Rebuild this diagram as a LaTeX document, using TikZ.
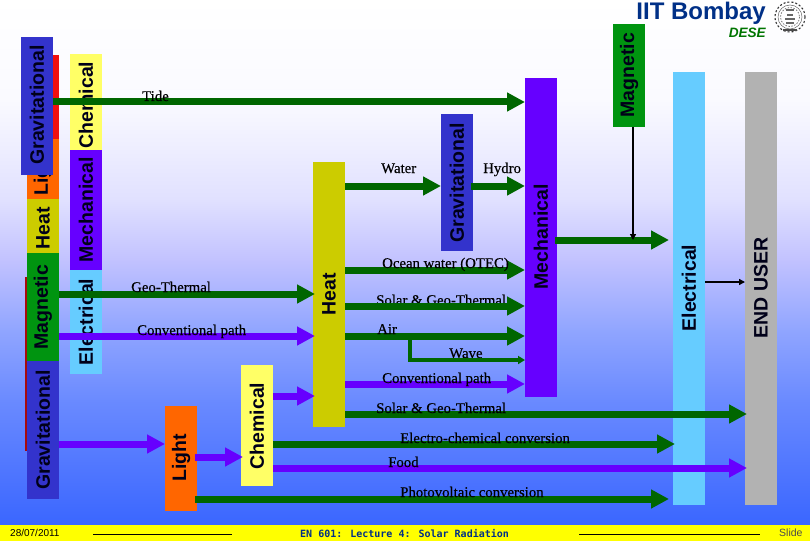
\documentclass[tikz,border=0pt]{standalone}
\usepackage{fontspec}
\setmainfont[FakeBold=0.35]{Liberation Serif}
\setsansfont{Liberation Sans}
\newfontfamily\monof{DejaVu Sans Mono}
\usetikzlibrary{arrows.meta,calc}
\definecolor{cGrav}{HTML}{3333CC}
\definecolor{cMag}{HTML}{009410}
\definecolor{cHeat}{HTML}{CCCC00}
\definecolor{cLight}{HTML}{FF6600}
\definecolor{cRed}{HTML}{F01010}
\definecolor{cMech}{HTML}{6600FF}
\definecolor{cElec}{HTML}{66CCFF}
\definecolor{cChem}{HTML}{FFFF66}
\definecolor{cUser}{HTML}{B2B2B2}
\definecolor{cGreen}{HTML}{006600}
\definecolor{cNavy}{HTML}{003087}
\definecolor{cFoot}{HTML}{FFFF00}
\tikzset{
  blockbox/.style={draw=none,inner sep=0pt,outer sep=0pt},
  blocktext/.style={font=\sffamily\bfseries\fontsize{19.5}{20}\selectfont,rotate=90,inner sep=0pt,text=black!90!blue},
  flowtext/.style={font=\fontsize{14.8}{16}\selectfont,anchor=base west,inner sep=0pt,text=black},
  greenflow/.style={draw=cGreen,line width=7pt,-{Triangle[length=18pt,width=18pt]}},
  purpleflow/.style={draw=cMech,line width=7pt,-{Triangle[length=18pt,width=18pt]}},
  blackflow/.style={draw=black,line width=1.3pt,-{Triangle[length=6pt,width=6pt]}},
}
% name, x0, y0, x1, y1, colour
\newcommand{\blk}[6]{\node[blockbox,fill=#6,minimum width=#4pt-#2pt,minimum height=#5pt-#3pt] (#1) at ({(#2+#4)/2},{(#3+#5)/2}) {};}
% name, x of baseline side centre, y centre, text
\newcommand{\btxt}[4]{\node[blocktext] (#1) at (#2,#3) {#4};}
\begin{document}
\begin{tikzpicture}[x=1pt,y=-1pt]
\useasboundingbox (0,0) rectangle (810,540);
% background
\fill[top color=white,bottom color=white!98!blue] (0,-1) rectangle (810,101);
\fill[top color=white!98!blue,bottom color=blue!12!white] (0,100) rectangle (810,201);
\fill[top color=blue!12!white,bottom color=blue!24!white] (0,200) rectangle (810,261);
\fill[top color=blue!24!white,bottom color={rgb,255:red,144;green,165;blue,255}] (0,260) rectangle (810,331);
\fill[top color={rgb,255:red,144;green,165;blue,255},bottom color={rgb,255:red,106;green,138;blue,255}] (0,330) rectangle (810,401);
\fill[top color={rgb,255:red,106;green,138;blue,255},bottom color={rgb,255:red,58;green,102;blue,255}] (0,400) rectangle (810,526);
\fill[cFoot] (0,525) rectangle (810,541);
% far-left stack
\fill[cRed!70!black] (25,277) rectangle (28,451);
\blk{redb}{27}{55}{59}{139}{cRed}
\blk{lightA}{27}{139}{59}{199}{cLight}
\blk{heatA}{27}{199}{59}{253}{cHeat}
\blk{magA}{27}{253}{59}{361}{cMag}
\blk{gravA}{27}{361}{59}{499}{cGrav}
\btxt{tLightA}{43}{172}{Light}
\btxt{tHeatA}{43}{228}{Heat}
\btxt{tMagA}{43}{307}{Magnetic}
\btxt{tGravA}{43}{430}{Gravitational}
\blk{gravB}{21}{37}{53}{175}{cGrav}
\btxt{tGravB}{37}{105}{Gravitational}
% second stack
\blk{chemB}{70}{54}{102}{150}{cChem}
\blk{mechB}{70}{150}{102}{270}{cMech}
\blk{elecB}{70}{270}{102}{374}{cElec}
\btxt{tChemB}{86}{105}{Chemical}
\btxt{tMechB}{86}{210}{Mechanical}
\btxt{tElecB}{86}{322}{Electrical}
% other blocks
\blk{light}{165}{406}{197}{511}{cLight}
\blk{chem}{241}{365}{273}{486}{cChem}
\blk{heat}{313}{162}{345}{427}{cHeat}
\blk{grav}{441}{114}{473}{251}{cGrav}
\blk{mech}{525}{78}{557}{397}{cMech}
\blk{mag}{613}{24}{645}{127}{cMag}
\blk{elec}{673}{72}{705}{505}{cElec}
\blk{user}{745}{72}{777}{505}{cUser}
\btxt{tLight}{181}{458}{Light}
\btxt{tChem}{257}{426}{Chemical}
\btxt{tHeat}{329}{294}{Heat}
\btxt{tGrav}{457}{183}{Gravitational}
\btxt{tMech}{541}{237}{Mechanical}
\btxt{tMag}{629}{75}{Magnetic}
\btxt{tElec}{689}{288}{Electrical}
\btxt{tUser}{761}{288}{END USER}
% labels under arrows
\node[flowtext] (lSolarA) at (376,305) {Solar \& Geo-Thermal};
\node[flowtext] (lWave) at (449,358) {Wave};
% arrows
\coordinate (tideS) at (gravB.east |- 0,102);
\draw[greenflow] (tideS) -- (mech.west |- tideS);
\coordinate (geoS) at (magA.east |- 0,294);
\draw[greenflow] (geoS) -- ([xshift=2pt]heat.west |- geoS);
\coordinate (convS) at (magA.east |- 0,336);
\draw[purpleflow] (convS) -- ([xshift=2pt]heat.west |- convS);
\coordinate (glS) at (gravA.east |- 0,444);
\draw[purpleflow] (glS) -- (light.west |- glS);
\coordinate (lcS) at ([xshift=-2pt]light.east |- 0,457);
\draw[purpleflow] (lcS) -- ([xshift=2pt]chem.west |- lcS);
\coordinate (chS) at (chem.east |- 0,396);
\draw[purpleflow] (chS) -- ([xshift=2pt]heat.west |- chS);
\coordinate (ecS) at (chem.east |- 0,444);
\draw[greenflow] (ecS) -- ([xshift=2pt]elec.west |- ecS);
\coordinate (foS) at (chem.east |- 0,468);
\draw[purpleflow] (foS) -- ([xshift=2pt]user.west |- foS);
\coordinate (pvS) at ([xshift=-2pt]light.east |- 0,499);
\draw[greenflow] (pvS) -- ([xshift=-4pt]elec.west |- pvS);
\coordinate (wS) at (heat.east |- 0,186);
\draw[greenflow] (wS) -- (grav.west |- wS);
\coordinate (hyS) at ([xshift=-2pt]grav.east |- 0,186);
\draw[greenflow] (hyS) -- (mech.west |- hyS);
\coordinate (ocS) at (heat.east |- 0,270);
\draw[greenflow] (ocS) -- (mech.west |- ocS);
\coordinate (soS) at (heat.east |- 0,306);
\draw[greenflow] (soS) -- (mech.west |- soS);
\coordinate (aiS) at (heat.east |- 0,336);
\draw[greenflow] (aiS) -- (mech.west |- aiS);
\coordinate (waS) at (410,336);
\coordinate (waE) at (mech.west |- 0,360);
\draw[cGreen,line width=3.5pt,-{Triangle[length=7pt,width=8pt]}] (waS) |- (waE);
\coordinate (cpS) at (heat.east |- 0,384);
\draw[purpleflow] (cpS) -- (mech.west |- cpS);
\coordinate (sgS) at (heat.east |- 0,414);
\draw[greenflow] (sgS) -- ([xshift=2pt]user.west |- sgS);
\coordinate (meS) at ([xshift=-2pt]mech.east |- 0,240);
\draw[greenflow] (meS) -- ([xshift=-4pt]elec.west |- meS);
\coordinate (maS) at ([xshift=4pt]mag.south);
\coordinate (maE) at (maS |- 0,240);
\draw[blackflow] (maS) -- (maE);
\coordinate (euS) at (elec.east |- 0,282);
\draw[blackflow] (euS) -- (user.west |- euS);
% labels over arrows
\node[flowtext] (lTide) at (142,101) {Tide};
\node[flowtext] (lWater) at (381,173) {Water};
\node[flowtext] (lHydro) at (483,173) {Hydro};
\node[flowtext] (lOcean) at (382,268) {Ocean water (OTEC)};
\node[flowtext] (lGeo) at (131,292) {Geo-Thermal};
\node[flowtext] (lConvA) at (137,335) {Conventional path};
\node[flowtext] (lAir) at (377,334) {Air};
\node[flowtext] (lConvB) at (382,383) {Conventional path};
\node[flowtext] (lSolarB) at (376,413) {Solar \& Geo-Thermal};
\node[flowtext] (lElectro) at (400,443) {Electro-chemical conversion};
\node[flowtext] (lFood) at (388,467) {Food};
\node[flowtext] (lPhoto) at (400,497) {Photovoltaic conversion};
% header
\node[anchor=base east,inner sep=0pt,text=cNavy,font=\sffamily\bfseries\fontsize{24}{24}\selectfont] (hTitle) at (766,20) {IIT Bombay};
\node[anchor=base east,inner sep=0pt,text=cGreen!90!green,font=\sffamily\bfseries\itshape\fontsize{13.6}{13}\selectfont] (hDese) at (766,38) {DESE};
% logo
\draw[black!80,line width=1.1pt,dash pattern=on 2pt off 2pt] (790,17) circle (15);
\draw[black!60,line width=.5pt] (790,17) circle (12);
\draw[black!60,line width=.7pt,dash pattern=on 1.5pt off 1.5pt] (790,17) circle (9.5);
\fill[black!60] (786,9) rectangle (794,11);
\fill[black!60] (787,14) rectangle (793,16);
\fill[black!60] (785,18) rectangle (795,20);
\fill[black!60] (786,22) rectangle (794,24);
\fill[black!70] (783,29) rectangle (797,31);
% footer
\coordinate (fa) at (93,534.5); \coordinate (fb) at (232,534.5);
\draw[black,line width=.8pt] (fa) -- (fb);
\coordinate (fc) at (579,534.5); \coordinate (fd) at (760,534.5);
\draw[black,line width=.8pt] (fc) -- (fd);
\node[anchor=base west,inner sep=0pt,text=black,font=\sffamily\fontsize{10}{10}\selectfont] (fDate) at (10,536.5) {28/07/2011};
\node[anchor=base west,inner sep=0pt,text=cNavy,font=\monof\bfseries\fontsize{10}{10}\selectfont] (fTitle) at (300,537) {EN 601: Lecture 4: Solar Radiation};
\node[anchor=base west,inner sep=0pt,text=black!70,font=\sffamily\fontsize{10.5}{10}\selectfont] (fSlide) at (779,536.5) {Slide};
\end{tikzpicture}
\end{document}
